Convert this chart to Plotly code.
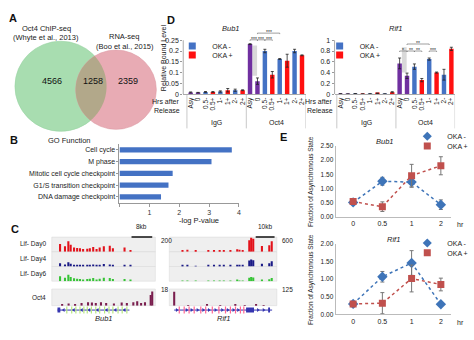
import numpy as np
import plotly.graph_objects as go

W, H = 474, 340
FONT = "Liberation Sans, Arial, Helvetica, sans-serif"

# ====================== DATA ======================
# A: Venn
venn_names = ["Oct4 ChIP-seq", "RNA-seq"]
venn_sources = ["(Whyte et al., 2013)", "(Boo et al., 2015)"]
venn_counts = [4566, 1258, 2359]          # ChIP only, overlap, RNA only

# B: GO terms
go_terms = ["Cell cycle", "M phase", "Mitotic cell cycle checkpoint",
            "G1/S transition checkpoint", "DNA damage checkpoint"]
go_neglogp = [3.76, 3.08, 1.78, 1.64, 1.39]
go_ticks = [0, 1, 2, 3, 4]
go_ticktext = ["", "1", "2", "3", "4"]

# C: genome tracks
track_names = ["Lif- Day0", "Lif- Day4", "Lif- Day6", "Oct4"]
track_colors = ["#E3121B", "#1A1A86", "#36C436", "#7A1E4E"]
bub1_kb = [3.2, 5.1, 6.4, 7.3, 8.6, 9.8, 10.9, 12.1, 13.7, 14.7, 16.0, 17.3,
           18.5, 20.1, 22.4, 23.6, 28.1, 30.4]
bub1_day0 = [110, 80, 150, 100, 60, 55, 50, 40, 45, 50, 70, 40, 60, 80, 85, 50, 60, 15]
bub1_day4 = [45, 30, 60, 40, 25, 20, 22, 18, 15, 20, 30, 18, 25, 35, 30, 20, 25, 10]
bub1_day6 = [70, 50, 90, 60, 40, 35, 30, 25, 30, 35, 45, 25, 35, 50, 45, 30, 30, 10]
bub1_oct4_kb = [4.0, 6.5, 9.0, 11.5, 14.0, 15.5, 17.0, 19.0, 21.0, 24.0, 27.0,
                29.0, 31.5, 33.0, 34.5, 36.0, 38.2, 38.8]
bub1_oct4 = [2, 2.5, 2, 3, 4, 3.5, 3, 4, 3, 2.5, 3.5, 3, 4, 5, 3, 4, 12, 16]
bub1_track_max = [200, 200, 200, 18]
bub1_span = [0, 40]
bub1_gene = [2.2, 30.0]
bub1_exons = [5.8, 7.7, 9.3, 10.9, 12.4, 13.7, 15.3, 17.0, 18.5, 20.4, 22.1,
              23.6, 25.6, 27.2, 29.0]
bub1_blocks = [[2.2, 3.3]]
bub1_arrows = [4.6, 8.5, 11.6, 14.5, 17.7, 21.2, 24.6, 28.1]
bub1_scalebar = [30.8, 8]   # start kb, length kb

rif1_kb = [7.0, 9.6, 14.0, 20.7, 23.7, 26.7, 28.9, 32.4, 36.0, 37.2, 38.9,
           42.4, 43.4, 44.5, 49.1, 53.0, 54.3]
rif1_day0 = [60, 90, 50, 70, 60, 80, 50, 60, 110, 90, 60, 500, 600, 560, 250, 280, 450]
rif1_day4 = [30, 50, 25, 40, 30, 45, 30, 35, 60, 55, 40, 260, 300, 270, 120, 140, 220]
rif1_day6 = [15, 25, 10, 20, 15, 20, 15, 20, 30, 25, 20, 150, 180, 160, 60, 80, 140]
rif1_oct4_kb = [2.6, 10.0, 20.0, 27.0, 35.0, 40.0, 46.0, 50.0]
rif1_oct4 = [110, 5, 6, 4, 8, 5, 6, 4]
rif1_track_max = [600, 600, 600, 125]
rif1_span = [0, 57]
rif1_gene = [2.6, 54.5]
rif1_exons = [5.3, 7.9, 10.5, 13.2, 16.7, 19.3, 22.8, 26.3, 29.8, 32.4, 35.1, 37.7, 39.5]
rif1_blocks = [[40.7, 44.9], [52.4, 53.4]]
rif1_arrows = [4.0, 9.2, 11.8, 15.0, 18.0, 21.0, 24.5, 28.0, 31.0, 34.0, 36.5, 47.0, 50.0]
rif1_scalebar = [45.8, 10]

# D: ChIP-qPCR
hrs_labels = ["Asy", "0", "0.5-", "0.5+", "1-", "1+", "2-", "2+"]
ab_groups = ["IgG", "Oct4"]
bub1_igg = [0.008, 0.007, 0.010, 0.010, 0.012, 0.018, 0.018, 0.018]
bub1_igg_err = [0.002, 0.001, 0.002, 0.002, 0.003, 0.008, 0.005, 0.002]
bub1_oct = [0.232, 0.060, 0.200, 0.090, 0.163, 0.155, 0.200, 0.180]
bub1_oct_err = [0.002, 0.015, 0.008, 0.015, 0.002, 0.030, 0.008, 0.002]
rif1_igg = [0.005, 0.002, 0.008, 0.003, 0.005, 0.015, 0.003, 0.035]
rif1_igg_err = [0.002, 0.001, 0.003, 0.001, 0.002, 0.005, 0.001, 0.010]
rif1_oct = [0.57, 0.34, 0.51, 0.26, 0.65, 0.40, 0.36, 0.84]
rif1_oct_err = [0.10, 0.05, 0.05, 0.03, 0.02, 0.01, 0.10, 0.03]
bub1_yticks = [0, 0.05, 0.1, 0.15, 0.2, 0.25]
rif1_yticks = [0, 0.2, 0.4, 0.6, 0.8, 1]
# significance brackets: (from bar, to bar, level, label)
bub1_sig = [(8, 9, 0.252, "***"), (9, 10, 0.252, "***"), (10, 11, 0.252, "***"),
            (9, 12, 0.283, "***")]
rif1_sig = [(8, 9, 0.80, "*"), (9, 10, 0.80, "**"), (10, 11, 0.80, "**"),
            (9, 12, 0.93, "**"), (12, 13, 0.80, "***")]
bub1_shade = [8.3, 8.95, 0.085, 0.225]
rif1_shade = [8.3, 8.95, 0.40, 0.87]

# E: asynchronous fraction
e_hours = ["0", "0.5", "1", "2"]
e_bub1_minus = [0.50, 1.25, 1.22, 0.42]
e_bub1_minus_err = [0.05, 0.14, 0.18, 0.17]
e_bub1_plus = [0.53, 0.35, 1.45, 1.80]
e_bub1_plus_err = [0.05, 0.17, 0.40, 0.32]
e_rif1_minus = [0.30, 1.07, 1.46, 0.29]
e_rif1_minus_err = [0.03, 0.15, 0.35, 0.03]
e_rif1_plus = [0.30, 0.32, 1.02, 0.85]
e_rif1_plus_err = [0.05, 0.30, 0.38, 0.18]

PURPLE, BLUE, RED = "#7030A0", "#4472C4", "#FF1010"
E_BLUE, E_RED = "#3E74B8", "#C0504D"

# ====================== HELPERS ======================
layout = {}
shapes, annotations, traces = [], [], []
_n = [0]


def axes(x0, x1, y0, y1, xa=None, ya=None):
    _n[0] += 1
    s = "" if _n[0] == 1 else str(_n[0])
    base = dict(showgrid=False, zeroline=False, fixedrange=True)
    xd = dict(base, domain=[x0 / W, x1 / W], anchor="y" + s)
    yd = dict(base, domain=[1 - y1 / H, 1 - y0 / H], anchor="x" + s)
    xd.update(xa or {})
    yd.update(ya or {})
    layout["xaxis" + s] = xd
    layout["yaxis" + s] = yd
    return "x" + s, "y" + s


def text(x, y, s, size=7, anchor="center", color="#222", angle=0, xref="paper", yanchor="middle"):
    annotations.append(dict(
        xref=xref, yref="paper", x=(x / W if xref == "paper" else x), y=1 - y / H,
        text=s, showarrow=False, xanchor=anchor, yanchor=yanchor,
        font=dict(size=size, color=color, family=FONT), textangle=angle))


_leg = [0]


def legend_entry(name, symbol, color, size, sx, sy, xa, ya):
    _leg[0] += 1
    key = "legend" if _leg[0] == 1 else "legend%d" % _leg[0]
    traces.append(go.Scatter(x=[None], y=[None], mode="markers", name=name,
                             marker=dict(symbol=symbol, color=color, size=size),
                             xaxis=xa, yaxis=ya, legend=key, showlegend=True))
    layout[key] = dict(x=(sx - 24) / W, y=1 - sy / H, xanchor="left", yanchor="middle",
                       bgcolor="rgba(0,0,0,0)", borderwidth=0,
                       font=dict(size=7, color="#222", family=FONT), itemwidth=30)


# ====================== A: VENN ======================
vx, vy = axes(0, 170, 0, 140, dict(visible=False, range=[0, 170]),
              dict(visible=False, range=[140, 0]))
green_c, green_r = (61, 84), 46
red_c, red_r = (116.5, 87.5), 40.5
shapes.append(dict(type="circle", xref=vx, yref=vy, x0=green_c[0] - green_r, x1=green_c[0] + green_r,
                   y0=green_c[1] - green_r, y1=green_c[1] + green_r,
                   fillcolor="#A8DDB0", line=dict(color="#98D3A2", width=0.6), layer="below"))
shapes.append(dict(type="circle", xref=vx, yref=vy, x0=red_c[0] - red_r, x1=red_c[0] + red_r,
                   y0=red_c[1] - red_r, y1=red_c[1] + red_r,
                   fillcolor="#E8ABB4", line=dict(color="#DD9AA5", width=0.6), layer="below"))
t = np.linspace(0, 2 * np.pi, 361)
pts = []
for (c, r, oc, orr) in [(green_c, green_r, red_c, red_r), (red_c, red_r, green_c, green_r)]:
    px_ = c[0] + r * np.cos(t)
    py_ = c[1] + r * np.sin(t)
    inside = (px_ - oc[0]) ** 2 + (py_ - oc[1]) ** 2 <= orr ** 2
    pts += list(zip(px_[inside], py_[inside]))
pts = np.array(pts)
cen = pts.mean(axis=0)
order = np.argsort(np.arctan2(pts[:, 1] - cen[1], pts[:, 0] - cen[0]))
pts = pts[order]
path = "M " + " L ".join("%.2f,%.2f" % (p[0], p[1]) for p in pts) + " Z"
shapes.append(dict(type="path", path=path, xref=vx, yref=vy, fillcolor="#B2A88A",
                   line=dict(width=0), layer="below"))
for xpos, cnt in zip([52, 93, 129], venn_counts):
    annotations.append(dict(xref=vx, yref=vy, x=xpos, y=79, text=str(cnt), showarrow=False,
                            font=dict(size=9, color="#111", family=FONT)))
text(47, 25, venn_names[0], 7.5)
text(46, 34, venn_sources[0], 7.5)
text(125, 33, venn_names[1], 7.5)
text(126, 43, venn_sources[1], 7.5)

# ====================== B: GO BARS ======================
bx, by = axes(120, 240, 143, 203,
              dict(range=[0, 4], tickvals=go_ticks, ticktext=go_ticktext, showline=True,
                   linecolor="#999", linewidth=1, ticks="outside", ticklen=3, tickcolor="#999",
                   tickfont=dict(size=7, color="#333")),
              dict(range=[4.5, -0.5], tickvals=list(range(len(go_terms))), ticktext=go_terms,
                   showline=True, linecolor="#999", linewidth=1, ticks="outside", ticklen=2,
                   tickcolor="#999", tickfont=dict(size=7, color="#222")))
traces.append(go.Bar(x=go_neglogp, y=list(range(len(go_terms))), orientation="h", width=0.45,
                     marker=dict(color="#4472C4", line=dict(width=0)), xaxis=bx, yaxis=by,
                     showlegend=False))
text(70, 139, "GO Function", 7.5)
text(200, 221, "-log P-value", 7.5)

# ====================== C: TRACKS ======================
track_rows = [(238, 253), (253, 268), (268, 283), (291, 308)]


def gene_panel(x0, x1, span, kb, d0, d4, d6, okb, ov, tmax, gene, exons, blocks, arrows,
               sbar, sbar_label, name, arrow_sym, bw):
    first_x = None
    series = [(kb, d0), (kb, d4), (kb, d6), (okb, ov)]
    for k, ((ya0, ya1), (xs, ys)) in enumerate(zip(track_rows, series)):
        xa, ya = axes(x0, x1, ya0, ya1, dict(visible=False, range=span),
                      dict(visible=False, range=[0, tmax[k] * 1.05]))
        if first_x is None:
            first_x = xa
        shapes.append(dict(type="rect", xref=xa + " domain", yref=ya + " domain", x0=0, x1=1,
                           y0=0, y1=1, fillcolor="#EFEFEF", line=dict(color="#D6D6D6", width=0.5),
                           layer="below"))
        traces.append(go.Bar(x=xs, y=ys, width=bw, marker=dict(color=track_colors[k], line=dict(width=0)),
                             xaxis=xa, yaxis=ya, showlegend=False))
    gx, gy = axes(x0, x1, 308, 317, dict(visible=False, range=span),
                  dict(visible=False, range=[-1, 1]))
    gc = "#3535B0"
    traces.append(go.Scatter(x=gene, y=[0, 0], mode="lines", line=dict(color=gc, width=1),
                             xaxis=gx, yaxis=gy, showlegend=False))
    for b in blocks:
        traces.append(go.Scatter(x=b, y=[0, 0], mode="lines", line=dict(color=gc, width=5),
                                 xaxis=gx, yaxis=gy, showlegend=False))
    traces.append(go.Scatter(x=exons, y=[0] * len(exons), mode="markers",
                             marker=dict(symbol="line-ns-open", size=5, line=dict(color=gc, width=1.2)),
                             xaxis=gx, yaxis=gy, showlegend=False))
    traces.append(go.Scatter(x=arrows, y=[0] * len(arrows), mode="markers",
                             marker=dict(symbol=arrow_sym, size=3.5, color=gc),
                             xaxis=gx, yaxis=gy, showlegend=False))
    # scale bar
    shapes.append(dict(type="line", xref=first_x, yref="paper", x0=sbar[0], x1=sbar[0] + sbar[1],
                       y0=1 - 238 / H, y1=1 - 238 / H, line=dict(color="#111", width=1.5)))
    annotations.append(dict(xref=first_x, yref="paper", x=sbar[0] + sbar[1] / 2, y=1 - 233 / H,
                            text=sbar_label, showarrow=False, font=dict(size=6.5, color="#222", family=FONT)))
    text((x0 + x1) / 2, 321, "<i>%s</i>" % name, 7.5)


gene_panel(52, 156, bub1_span, bub1_kb, bub1_day0, bub1_day4, bub1_day6, bub1_oct4_kb, bub1_oct4,
           bub1_track_max, bub1_gene, bub1_exons, bub1_blocks, bub1_arrows, bub1_scalebar,
           "%dkb" % bub1_scalebar[1], "Bub1", "triangle-left", 0.8)
gene_panel(170, 278, rif1_span, rif1_kb, rif1_day0, rif1_day4, rif1_day6, rif1_oct4_kb, rif1_oct4,
           rif1_track_max, rif1_gene, rif1_exons, rif1_blocks, rif1_arrows, rif1_scalebar,
           "%dkb" % rif1_scalebar[1], "Rif1", "triangle-right", 1.1)
for (r0, r1), nm in zip(track_rows, track_names):
    text(48, (r0 + r1) / 2, nm, 6.5, anchor="right")
text(160, 241, str(bub1_track_max[0]), 6.5, anchor="left")
text(160, 292, str(bub1_track_max[3]), 6.5, anchor="left")
text(281, 241, str(rif1_track_max[0]), 6.5, anchor="left")
text(281, 292, str(rif1_track_max[3]), 6.5, anchor="left")

# ====================== D: BAR CHARTS ======================


def bar_color(lbl):
    if lbl.endswith("-"):
        return BLUE
    if lbl.endswith("+"):
        return RED
    return PURPLE


def d_chart(x0, x1, xr0, title, title_x, igg, igg_err, oct_, oct_err, yticks, yr_top,
            sig, shade, leg_x, hrs_right):
    labels = hrs_labels * 2
    vals = igg + oct_
    errs = igg_err + oct_err
    xa, ya = axes(x0, x1, 26, 92,
                  dict(range=[xr0, 15.5], tickvals=list(range(16)), ticktext=labels, tickangle=-90,
                       showline=True, linecolor="#AAA", linewidth=1, ticks="",
                       tickfont=dict(size=6.5, color="#222")),
                  dict(range=[0, yr_top], tickvals=yticks, ticktext=["%g" % v for v in yticks],
                       showline=False, ticks="outside", ticklen=2, tickcolor="#999",
                       tickfont=dict(size=7, color="#222")))
    shapes.append(dict(type="line", xref=xa + " domain", yref=ya, x0=0, x1=0, y0=0, y1=yticks[-1],
                       line=dict(color="#AAA", width=1)))
    shapes.append(dict(type="rect", xref=xa, yref=ya, x0=shade[0], x1=shade[1], y0=shade[2],
                       y1=shade[3], fillcolor="#D9D9D9", line=dict(width=0), layer="below"))
    for col in [PURPLE, BLUE, RED]:
        idx = [i for i, l in enumerate(labels) if bar_color(l) == col]
        traces.append(go.Bar(x=idx, y=[vals[i] for i in idx], width=0.6,
                             marker=dict(color=col, line=dict(width=0)),
                             error_y=dict(type="data", array=[errs[i] for i in idx], color="#222",
                                          thickness=0.8, width=1.5),
                             xaxis=xa, yaxis=ya, showlegend=False))
    leg = 0.015 * yr_top
    for (a, b, lvl, lab) in sig:
        shapes.append(dict(type="path", xref=xa, yref=ya,
                           path="M %g,%g L %g,%g L %g,%g L %g,%g" % (a, lvl - leg, a, lvl, b, lvl, b, lvl - leg),
                           line=dict(color="#777", width=0.7)))
        annotations.append(dict(xref=xa, yref=ya, x=(a + b) / 2, y=lvl, text=lab, showarrow=False,
                                yanchor="bottom", yshift=-3, borderpad=0,
                                font=dict(size=5, color="#222", family=FONT)))
    # group separators and labels
    for xv in [-0.5, 7.5, 15.5]:
        shapes.append(dict(type="line", xref=xa, yref="paper", x0=xv, x1=xv, y0=1 - 93 / H,
                           y1=1 - 127 / H, line=dict(color="#BBB", width=0.8)))
    for g, xv in zip(ab_groups, [3.5, 11.5]):
        annotations.append(dict(xref=xa, yref="paper", x=xv, y=1 - 121 / H, text=g, showarrow=False,
                                font=dict(size=7, color="#222", family=FONT)))
    text(hrs_right, 100, "Hrs after", 7, anchor="right")
    text(hrs_right, 109, "Release", 7, anchor="right")
    text(title_x, 25, "<i>%s</i>" % title, 7.5)
    legend_entry("OKA -", "square", BLUE, 7, leg_x, 43, xa, ya)
    legend_entry("OKA +", "square", RED, 7, leg_x, 52, xa, ya)


d_chart(184, 307, -1.0, "Bub1", 232, bub1_igg, bub1_igg_err, bub1_oct, bub1_oct_err,
        bub1_yticks, 0.30, bub1_sig, bub1_shade, 197, 183)
d_chart(336, 457, -0.8, "Rif1", 397, rif1_igg, rif1_igg_err, rif1_oct, rif1_oct_err,
        rif1_yticks, 1.20, rif1_sig, rif1_shade, 345, 336)
text(165, 55, "Relative Bound Level", 7, angle=-90)

# ====================== E: LINE CHARTS ======================


def e_chart(y0, y1, ymax, title, tx, ty, minus, minus_err, plus, plus_err, leg_y):
    xa, ya = axes(337, 453, y0, y1,
                  dict(range=[-0.6, 3.35], tickvals=list(range(len(e_hours))), ticktext=e_hours,
                       showline=True, linecolor="#BBB", linewidth=1, ticks="",
                       tickfont=dict(size=7, color="#222")),
                  dict(range=[0, ymax], tickvals=list(np.arange(0, ymax + 0.01, 0.5)),
                       tickformat=".2f", showline=True, linecolor="#BBB", linewidth=1, ticks="",
                       tickfont=dict(size=6.5, color="#222")))
    xs = list(range(len(e_hours)))
    for vals, errs, col, sym in [(minus, minus_err, E_BLUE, "diamond"), (plus, plus_err, E_RED, "square")]:
        traces.append(go.Scatter(x=xs, y=vals, mode="lines+markers",
                                 line=dict(color=col, width=1.5, dash="dot"),
                                 marker=dict(symbol=sym, size=8 if sym == "diamond" else 7, color=col),
                                 error_y=dict(type="data", array=errs, color="#777", thickness=1, width=2),
                                 xaxis=xa, yaxis=ya, showlegend=False))
    text(tx, ty, "<i>%s</i>" % title, 7.5)
    text(457, y1 + 8, "hr", 7, anchor="left")
    text(313, (y0 + y1) / 2, "Fraction of Asynchronous State", 6.5, angle=-90)
    legend_entry("OKA -", "diamond", E_BLUE, 7, 433, leg_y, xa, ya)
    legend_entry("OKA +", "square", E_RED, 7, 433, leg_y + 10, xa, ya)


e_chart(145, 217, 2.5, "Bub1", 387, 140, e_bub1_minus, e_bub1_minus_err, e_bub1_plus, e_bub1_plus_err, 135)
e_chart(245, 317, 2.0, "Rif1", 395, 240, e_rif1_minus, e_rif1_minus_err, e_rif1_plus, e_rif1_plus_err, 244)

# panel letters
for lt, (lx, ly) in zip("ABCDE", [(13, 14), (14, 139), (15, 230), (172, 16), (285, 136)]):
    text(lx, ly, "<b>%s</b>" % lt, 11, color="#111")

fig = go.Figure(data=traces)
fig.update_layout(**layout)
fig.update_layout(width=W, height=H, margin=dict(l=0, r=0, t=0, b=0), autosize=False,
                  paper_bgcolor="white", plot_bgcolor="white", barmode="overlay",
                  showlegend=True, font=dict(family=FONT, size=7, color="#222"),
                  shapes=shapes, annotations=annotations)
fig.write_html("out.html", config={"displayModeBar": False})
